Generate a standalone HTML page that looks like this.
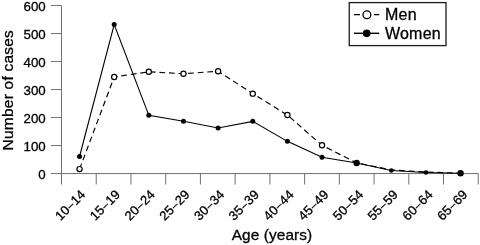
<!DOCTYPE html>
<html><head><meta charset="utf-8"><title>Chart</title>
<style>
html,body{margin:0;padding:0;background:#fff;}
body{width:480px;height:245px;overflow:hidden;}
svg{display:block;}
text{font-family:"Liberation Sans",sans-serif;fill:#000;stroke:#000;stroke-width:0.3px;}
</style></head><body>
<svg width="480" height="245" viewBox="0 0 480 245">
<rect width="480" height="245" fill="#fff"/>

<g stroke="#686868" stroke-width="0.95" fill="none">
<path d="M61.5 5.55V173.55H478.26"/>
<path d="M51 173.55H61.5"/>
<path d="M51 145.55H61.5"/>
<path d="M51 117.55000000000001H61.5"/>
<path d="M51 89.55000000000001H61.5"/>
<path d="M51 61.55000000000001H61.5"/>
<path d="M51 33.55000000000001H61.5"/>
<path d="M51 5.550000000000011H61.5"/>
<path d="M61.50 173.55V184.5"/>
<path d="M96.23 173.55V184.5"/>
<path d="M130.96 173.55V184.5"/>
<path d="M165.69 173.55V184.5"/>
<path d="M200.42 173.55V184.5"/>
<path d="M235.15 173.55V184.5"/>
<path d="M269.88 173.55V184.5"/>
<path d="M304.61 173.55V184.5"/>
<path d="M339.34 173.55V184.5"/>
<path d="M374.07 173.55V184.5"/>
<path d="M408.80 173.55V184.5"/>
<path d="M443.53 173.55V184.5"/>
<path d="M478.26 173.55V184.5"/>
</g>
<text x="45.7" y="179.4" font-size="13.3" text-anchor="end">0</text>
<text x="45.7" y="151.4" font-size="13.3" text-anchor="end">100</text>
<text x="45.7" y="123.4" font-size="13.3" text-anchor="end">200</text>
<text x="45.7" y="95.4" font-size="13.3" text-anchor="end">300</text>
<text x="45.7" y="67.4" font-size="13.3" text-anchor="end">400</text>
<text x="45.7" y="39.4" font-size="13.3" text-anchor="end">500</text>
<text x="45.7" y="11.4" font-size="13.3" text-anchor="end">600</text>
<text transform="translate(86.2 195.5) rotate(-45)" font-size="13" text-anchor="end">10<tspan font-size="10.5" dx="0.78" dy="-0.7">–</tspan><tspan dx="0.78" dy="0.7">14</tspan></text>
<text transform="translate(120.9 195.5) rotate(-45)" font-size="13" text-anchor="end">15<tspan font-size="10.5" dx="0.78" dy="-0.7">–</tspan><tspan dx="0.78" dy="0.7">19</tspan></text>
<text transform="translate(155.6 195.5) rotate(-45)" font-size="13" text-anchor="end">20<tspan font-size="10.5" dx="0.78" dy="-0.7">–</tspan><tspan dx="0.78" dy="0.7">24</tspan></text>
<text transform="translate(190.4 195.5) rotate(-45)" font-size="13" text-anchor="end">25<tspan font-size="10.5" dx="0.78" dy="-0.7">–</tspan><tspan dx="0.78" dy="0.7">29</tspan></text>
<text transform="translate(225.1 195.5) rotate(-45)" font-size="13" text-anchor="end">30<tspan font-size="10.5" dx="0.78" dy="-0.7">–</tspan><tspan dx="0.78" dy="0.7">34</tspan></text>
<text transform="translate(259.8 195.5) rotate(-45)" font-size="13" text-anchor="end">35<tspan font-size="10.5" dx="0.78" dy="-0.7">–</tspan><tspan dx="0.78" dy="0.7">39</tspan></text>
<text transform="translate(294.5 195.5) rotate(-45)" font-size="13" text-anchor="end">40<tspan font-size="10.5" dx="0.78" dy="-0.7">–</tspan><tspan dx="0.78" dy="0.7">44</tspan></text>
<text transform="translate(329.3 195.5) rotate(-45)" font-size="13" text-anchor="end">45<tspan font-size="10.5" dx="0.78" dy="-0.7">–</tspan><tspan dx="0.78" dy="0.7">49</tspan></text>
<text transform="translate(364.0 195.5) rotate(-45)" font-size="13" text-anchor="end">50<tspan font-size="10.5" dx="0.78" dy="-0.7">–</tspan><tspan dx="0.78" dy="0.7">54</tspan></text>
<text transform="translate(398.7 195.5) rotate(-45)" font-size="13" text-anchor="end">55<tspan font-size="10.5" dx="0.78" dy="-0.7">–</tspan><tspan dx="0.78" dy="0.7">59</tspan></text>
<text transform="translate(433.5 195.5) rotate(-45)" font-size="13" text-anchor="end">60<tspan font-size="10.5" dx="0.78" dy="-0.7">–</tspan><tspan dx="0.78" dy="0.7">64</tspan></text>
<text transform="translate(468.2 195.5) rotate(-45)" font-size="13" text-anchor="end">65<tspan font-size="10.5" dx="0.78" dy="-0.7">–</tspan><tspan dx="0.78" dy="0.7">69</tspan></text>
<text transform="translate(12.8 90.2) rotate(-90)" font-size="15.5" letter-spacing="0.22" text-anchor="middle">Number of cases</text>
<text x="272" y="240.1" font-size="15.4" letter-spacing="0.1" text-anchor="middle">Age (years)</text>
<polyline points="79.55,169.09 114.19,76.97 148.83,71.79 183.47,73.75 218.11,71.23 252.75,93.63 287.39,115.05 322.03,145.29 356.67,162.93 391.31,169.93 425.95,172.03 460.59,173.29" fill="none" stroke="#000" stroke-width="1.15" stroke-dasharray="5.8 3.8" stroke-dashoffset="0.00"/>
<circle cx="79.55" cy="169.09" r="2.6" fill="#fff" stroke="#000" stroke-width="1.2"/>
<circle cx="114.19" cy="76.97" r="2.6" fill="#fff" stroke="#000" stroke-width="1.2"/>
<circle cx="148.83" cy="71.79" r="2.6" fill="#fff" stroke="#000" stroke-width="1.2"/>
<circle cx="183.47" cy="73.75" r="2.6" fill="#fff" stroke="#000" stroke-width="1.2"/>
<circle cx="218.11" cy="71.23" r="2.6" fill="#fff" stroke="#000" stroke-width="1.2"/>
<circle cx="252.75" cy="93.63" r="2.6" fill="#fff" stroke="#000" stroke-width="1.2"/>
<circle cx="287.39" cy="115.05" r="2.6" fill="#fff" stroke="#000" stroke-width="1.2"/>
<circle cx="322.03" cy="145.29" r="2.6" fill="#fff" stroke="#000" stroke-width="1.2"/>
<circle cx="356.67" cy="162.93" r="2.6" fill="#fff" stroke="#000" stroke-width="1.2"/>
<circle cx="460.59" cy="173.29" r="2.6" fill="#fff" stroke="#000" stroke-width="1.2"/>
<polyline points="79.55,156.49 114.19,24.61 148.83,115.33 183.47,121.21 218.11,127.93 252.75,121.35 287.39,141.37 322.03,157.33 356.67,162.93 391.31,170.49 425.95,172.51 460.59,173.29" fill="none" stroke="#000" stroke-width="1.1"/>
<circle cx="79.55" cy="156.49" r="2.5" fill="#000"/>
<circle cx="114.19" cy="24.61" r="2.5" fill="#000"/>
<circle cx="148.83" cy="115.33" r="2.5" fill="#000"/>
<circle cx="183.47" cy="121.21" r="2.5" fill="#000"/>
<circle cx="218.11" cy="127.93" r="2.5" fill="#000"/>
<circle cx="252.75" cy="121.35" r="2.5" fill="#000"/>
<circle cx="287.39" cy="141.37" r="2.5" fill="#000"/>
<circle cx="322.03" cy="157.33" r="2.5" fill="#000"/>
<circle cx="356.67" cy="162.93" r="2.5" fill="#000"/>
<circle cx="391.31" cy="170.49" r="2.3" fill="#000"/>
<circle cx="425.95" cy="172.51" r="2.3" fill="#000"/>
<circle cx="460.59" cy="173.29" r="2.5" fill="#000"/>
<rect x="349.25" y="2.6" width="96.75" height="43.0" fill="#fff" stroke="#1c1c1c" stroke-width="1.3"/>
<path d="M354 14.7H360M374 14.7H379.25" stroke="#000" stroke-width="1.3"/>
<circle cx="366.9" cy="14.7" r="3.9" fill="#fff" stroke="#000" stroke-width="1.3"/>
<path d="M354 33.3H379.25" stroke="#000" stroke-width="1.4"/>
<circle cx="366.7" cy="33.3" r="3.85" fill="#000"/>
<text x="385" y="19.8" font-size="16" letter-spacing="0.2">Men</text>
<text x="385" y="38.65" font-size="16" letter-spacing="0.2">Women</text>
</svg></body></html>
